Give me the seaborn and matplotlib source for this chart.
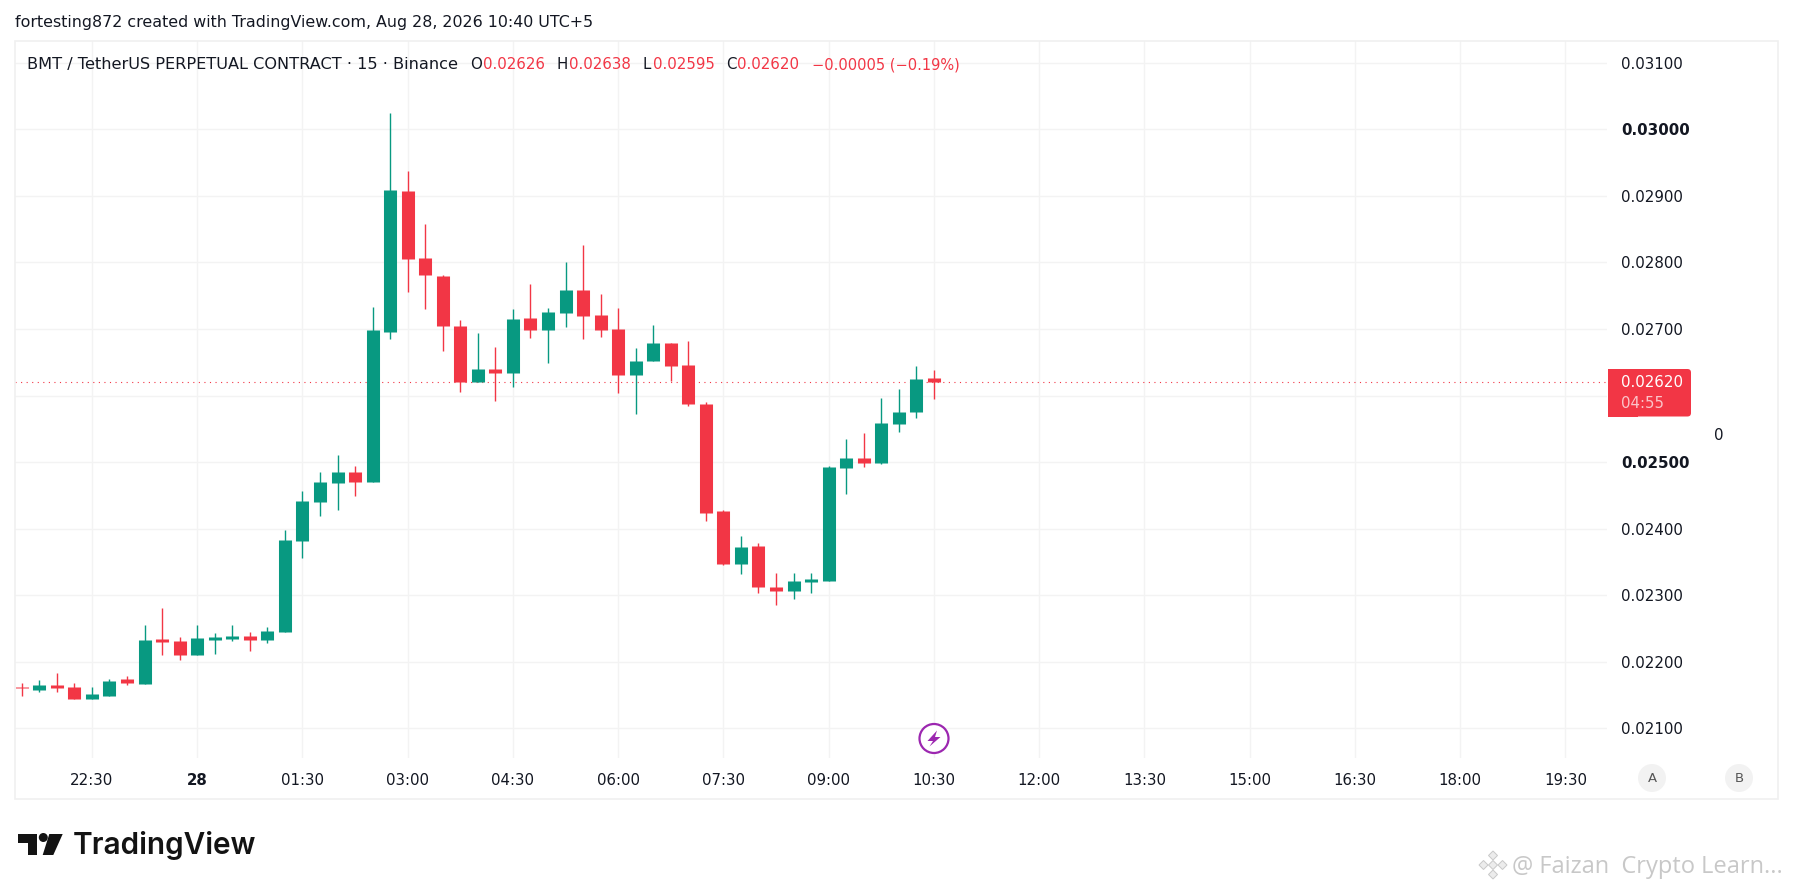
import numpy as np
import pandas as pd
import matplotlib
matplotlib.use("Agg")
import matplotlib.pyplot as plt
from matplotlib.patches import Ellipse, Polygon, FancyBboxPatch
import seaborn as sns

# 15 minute candles, first one opens at 21:30
opens = [.02162, .02158, .02165, .02162, .02144, .02149, .02174, .02167, .02234, .02231,
         .02210, .02233, .02234, .02239, .02233, .02245, .02382, .02440, .02469, .02485,
         .02470, .02695, .02907, .02807, .02780, .02704, .02620, .02640, .02634, .02717,
         .02698, .02724, .02759, .02721, .02700, .02631, .02652, .02679, .02646, .02588,
         .02426, .02347, .02374, .02313, .02306, .02320, .02322, .02491, .02506, .02498,
         .02557, .02575, .02626]
highs = [.02168, .02173, .02183, .02168, .02162, .02174, .02179, .02255, .02281, .02237,
         .02255, .02243, .02255, .02245, .02252, .02398, .02457, .02485, .02511, .02494,
         .02733, .03025, .02937, .02858, .02781, .02713, .02694, .02673, .02730, .02768,
         .02732, .02801, .02826, .02753, .02732, .02671, .02706, .02679, .02682, .02591,
         .02428, .02389, .02378, .02333, .02333, .02333, .02494, .02534, .02543, .02597,
         .02610, .02644, .02638]
lows = [.02149, .02155, .02155, .02144, .02144, .02149, .02165, .02167, .02210, .02203,
        .02210, .02212, .02231, .02216, .02228, .02245, .02356, .02419, .02428, .02449,
        .02470, .02685, .02756, .02730, .02667, .02605, .02620, .02592, .02613, .02686,
        .02649, .02703, .02685, .02688, .02604, .02572, .02652, .02622, .02584, .02411,
        .02345, .02332, .02303, .02286, .02294, .02304, .02321, .02452, .02492, .02497,
        .02545, .02567, .02595]
closes = [.02160, .02165, .02161, .02144, .02152, .02171, .02168, .02233, .02230, .02210,
          .02236, .02237, .02239, .02233, .02246, .02383, .02442, .02470, .02485, .02470,
          .02698, .02909, .02805, .02781, .02704, .02620, .02640, .02634, .02715, .02698,
          .02726, .02759, .02720, .02698, .02631, .02652, .02679, .02644, .02587, .02423,
          .02347, .02372, .02312, .02307, .02322, .02324, .02492, .02506, .02498, .02558,
          .02576, .02625, .02620]

time_positions = [4, 10, 16, 22, 28, 34, 40, 46, 52, 58, 64, 70, 76, 82, 88]
time_labels = ["22:30", "28", "01:30", "03:00", "04:30", "06:00", "07:30", "09:00", "10:30",
               "12:00", "13:30", "15:00", "16:30", "18:00", "19:30"]
price_ticks = [.021, .022, .023, .024, .025, .026, .027, .028, .029, .030, .031]
price_labels = ["0.02100", "0.02200", "0.02300", "0.02400", "0.02500", "", "0.02700",
                "0.02800", "0.02900", "0.03000", "0.03100"]
last_price = 0.02620

GREEN = "#089981"
RED = "#f23645"
GRID = "#f3f3f3"
FRAME = "#f0f0f0"
INK = "#131722"
LOGO = "#131313"
W, H = 1793, 890
DPI = 100
FS = 10.8


def fx(x):
    return x / W


def fy(y):
    return 1 - y / H


def pix_poly(points, **kw):
    # polygon given in image pixels, used for the logo style decorations
    fig.add_artist(Polygon([(fx(a), fy(b)) for a, b in points], transform=fig.transFigure, **kw))


candles = pd.DataFrame({"i": np.arange(len(opens)), "o": opens, "h": highs, "l": lows, "c": closes})
candles["dir"] = np.where(candles.c >= candles.o, "up", "down")
wicks = candles.melt(id_vars=["i", "dir"], value_vars=["h", "l"], value_name="price")
bodies = candles.melt(id_vars=["i", "dir"], value_vars=["o", "c"], value_name="price")

sns.set_theme(style="white")
plt.rcParams["font.family"] = ["DejaVu Sans"]

fig = plt.figure(figsize=(W / DPI, H / DPI), dpi=DPI)
ax = fig.add_axes([fx(15), fy(758), (1607 - 15) / W, (758 - 41) / H])
palette = {"up": GREEN, "down": RED}

ax.axhline(last_price, color=RED, lw=0.8, ls=(0, (1, 4)), zorder=1)
sns.lineplot(data=wicks, x="i", y="price", units="i", hue="dir", palette=palette, estimator=None,
             sort=False, legend=False, lw=1.0, solid_capstyle="butt", ax=ax, zorder=3)
sns.lineplot(data=bodies, x="i", y="price", units="i", hue="dir", palette=palette, estimator=None,
             sort=False, legend=False, lw=9.4, solid_capstyle="butt", ax=ax, zorder=4)

ax.set_xlim((15 - 21.8) / 17.54, (1607 - 21.8) / 17.54)
ax.set_ylim(.020554, .031327)
ax.set_xlabel("")
ax.set_ylabel("")
ax.grid(True, color=GRID, lw=1)
ax.set_axisbelow(True)
for s in ax.spines.values():
    s.set_visible(False)

ax.set_xticks(time_positions)
ax.set_xticklabels(time_labels, fontsize=FS, color=INK)
ax.yaxis.tick_right()
ax.set_yticks(price_ticks)
ax.set_yticklabels(price_labels, fontsize=FS, color=INK)
ax.tick_params(axis="x", length=0, pad=11)
ax.tick_params(axis="y", length=0, pad=10.4)
for lab in ax.get_yticklabels():
    if lab.get_text() in ("0.03000", "0.02500"):
        lab.set_fontweight("bold")
for lab in ax.get_xticklabels():
    if lab.get_text() == "28":
        lab.set_fontweight("bold")

# outer frame of the chart
fig.add_artist(plt.Rectangle((fx(15), fy(799)), (1778 - 15) / W, (799 - 41) / H, fill=False,
                             ec=FRAME, lw=1.2, transform=fig.transFigure))

# header lines
fig.text(fx(15), fy(23), "fortesting872 created with TradingView.com, Aug 28, 2026 10:40 UTC+5",
         fontsize=11.45, color=INK, va="center")
fig.text(fx(27), fy(64.5), "BMT / TetherUS PERPETUAL CONTRACT · 15 · Binance", fontsize=11.65,
         color=INK, va="center")
legend_bits = [(470.5, "O", INK), (482.5, "0.02626", RED), (557, "H", INK), (568.5, "0.02638", RED),
               (643, "L", INK), (652.5, "0.02595", RED), (726, "C", INK), (737.5, "0.02620", RED),
               (811.5, "−0.00005 (−0.19%)", RED)]
for x, s, col in legend_bits:
    fig.text(fx(x), fy(64.5), s, fontsize=10.5 if s.startswith("−") else FS, color=col, va="center")

# last price tag, square on the axis side and rounded on the other
fig.add_artist(FancyBboxPatch((fx(1608), fy(416.5)), 83 / W, 47.5 / H,
                              boxstyle="round,pad=0,rounding_size=0.002", mutation_aspect=2.0,
                              fc=RED, ec="none", transform=fig.transFigure, zorder=5))
fig.add_artist(plt.Rectangle((fx(1608), fy(416.5)), 30 / W, 47.5 / H, fc=RED, ec="none",
                             transform=fig.transFigure, zorder=5))
fig.text(fx(1621), fy(382.5), "0.02620", fontsize=FS, color="white", va="center", zorder=6)
fig.text(fx(1621), fy(404), "04:55", fontsize=FS, color="#fbc4c9", va="center", zorder=6)
fig.text(fx(1719), fy(435), "0", fontsize=FS, color=INK, va="center", ha="center")

# A / B markers on the time axis
for x, s in [(1652, "A"), (1739, "B")]:
    fig.add_artist(Ellipse((fx(x), fy(778)), 28 / W, 28 / H, fc="#f2f2f2", ec="none",
                           transform=fig.transFigure))
    fig.text(fx(x), fy(778), s, fontsize=9.5, color="#555555", ha="center", va="center")

# lightning badge
fig.add_artist(Ellipse((fx(934), fy(738.5)), 29 / W, 29 / H, fc="white", ec="#9c27b0", lw=1.6,
                       transform=fig.transFigure, zorder=5))
pix_poly([(937, 730.5), (927.5, 741), (933, 741), (929.5, 746.5), (940.5, 737), (935, 737)],
         fc="#9c27b0", ec="none", zorder=6)

# TradingView logo
pix_poly([(18.3, 834), (36.7, 834), (36.7, 855), (27.7, 855), (27.7, 843), (18.3, 843)],
         fc=LOGO, ec="none")
pix_poly([(49.3, 834), (62.7, 834), (53.3, 855), (42.7, 855)], fc=LOGO, ec="none")
fig.add_artist(Ellipse((fx(43.3), fy(837.5)), 9 / W, 9 / H, fc=LOGO, ec="none",
                       transform=fig.transFigure))
fig.text(fx(73), fy(845), "TradingView", fontsize=21.4, family="Inter", fontweight="semibold",
         color=LOGO, va="center")

# watermark
wm = "#c8c8c8"
for cx, cy in [(1493, 865), (1493, 855.5), (1493, 874.5), (1483.5, 865), (1502.5, 865)]:
    pix_poly([(cx, cy - 4.5), (cx + 4.5, cy), (cx, cy + 4.5), (cx - 4.5, cy)],
             fc="#ececec", ec=wm, lw=0.7)
fig.text(fx(1512), fy(867), "@ Faizan  Crypto Learn...", fontsize=17, family="Open Sans",
         color=wm, va="center")

fig.savefig("out.png", dpi=DPI, facecolor="white")
